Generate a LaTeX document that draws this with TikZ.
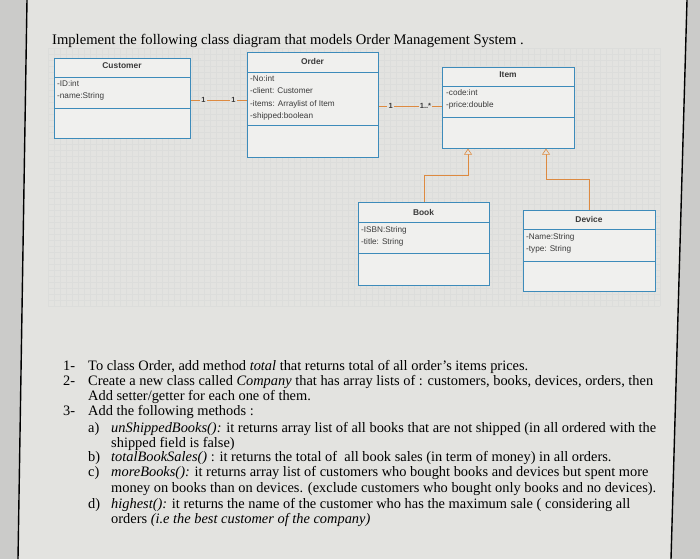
\documentclass[tikz,border=0pt]{standalone}
\usepackage{fontspec}
\setmainfont{Liberation Serif}
\newfontfamily\umlfont{Liberation Sans}
\usepackage{xcolor}
\usetikzlibrary{arrows.meta, positioning}
\definecolor{pagebg}{HTML}{E3E3E0}
\definecolor{deskbg}{HTML}{CBCBC9}
\definecolor{gridgray}{HTML}{DCDDDB}
\definecolor{umlblue}{HTML}{3D8BBA}
\definecolor{umlorange}{HTML}{DD8A40}
\definecolor{umltext}{HTML}{3A3A3A}

\begin{document}
\begin{tikzpicture}[x=1pt,y=-1pt,
    classbox/.style={draw=umlblue,semithick,fill=pagebg!55!white,anchor=north west,inner sep=0pt},
    classline/.style={umlblue,semithick},
    classname/.style={font=\umlfont\bfseries\fontsize{8.4}{10}\selectfont,text=umltext,inner sep=0pt},
    attrs/.style={font=\umlfont\fontsize{8.2}{12.5}\selectfont,text=umltext,align=left,anchor=north west,inner sep=0pt},
    assoc/.style={umlorange,semithick},
    mult/.style={font=\umlfont\bfseries\fontsize{7.5}{8}\selectfont,text=umltext,fill=pagebg,inner sep=1.2pt},
    genline/.style={umlorange,semithick,-{Triangle[open,width=8pt,length=6pt,fill=pagebg]}},
    task/.style={anchor=base west,inner sep=0pt,font=\fontsize{14.4}{15}\selectfont},
  ]
    % page of the photo
    \useasboundingbox (0,0) rectangle (700,559);
    \fill[deskbg] (0,0) rectangle (700,559);
    \fill[pagebg] (27,0) -- (687,0) -- (671,559) -- (18,559) -- cycle;
    \draw[black,line width=1.4pt] (27,0) -- (18,559);
    \draw[black,line width=1.4pt] (687,0) -- (671,559);
    \draw[gridgray,very thin,step=6pt] (48,48) grid (660,306);

    \node[anchor=base west,inner sep=0pt,font=\fontsize{14.6}{16}\selectfont] (title) at (52,45)
      {Implement the following class diagram that models Order Management System .};

    % classes
    \node[classbox,minimum width=136pt,minimum height=80pt] (customer) at (54,58) {};
    \draw[classline] (54,77) -- (190,77);
    \draw[classline] (54,108) -- (190,108);
    \node[classname] at (122,66) {Customer};
    \node[attrs] at (57,80) {-ID:int\\-name:String};

    \node[classbox,minimum width=131pt,minimum height=105pt] (order) at (247,52) {};
    \draw[classline] (247,72) -- (378,72);
    \draw[classline] (247,125) -- (378,125);
    \node[classname] at (312.5,61) {Order};
    \node[attrs] at (250,75) {-No:int\\-client: Customer\\-items: Arraylist of Item\\-shipped:boolean};

    \node[classbox,minimum width=132pt,minimum height=81pt] (item) at (442,67) {};
    \draw[classline] (442,86) -- (574,86);
    \draw[classline] (442,117) -- (574,117);
    \node[classname] at (508,75) {Item};
    \node[attrs] at (446,89) {-code:int\\-price:double};

    \node[classbox,minimum width=131pt,minimum height=83pt] (book) at (358,202) {};
    \draw[classline] (358,222) -- (489,222);
    \draw[classline] (358,253) -- (489,253);
    \node[classname] at (423.5,212) {Book};
    \node[attrs] at (361,226) {-ISBN:String\\-title: String};

    \node[classbox,minimum width=132pt,minimum height=81pt] (device) at (523,210) {};
    \draw[classline] (523,229) -- (655,229);
    \draw[classline] (523,261) -- (655,261);
    \node[classname] at (589,219) {Device};
    \node[attrs] at (526,233) {-Name:String\\-type: String};

    % associations
    \draw[assoc] (customer.east |- 0,100) -- (order.west |- 0,100)
      node[mult,pos=0.23] {1} node[mult,pos=0.76] {1};
    \draw[assoc] (order.east |- 0,106) -- (item.west |- 0,106)
      node[mult,pos=0.19] {1} node[mult,pos=0.74] {1..*};

    % inheritance
    \coordinate (bookjoin) at (468,175);
    \coordinate (devicejoin) at (546,179);
    \draw[genline] (book.north) |- (bookjoin) -- (bookjoin |- item.south);
    \draw[genline] (device.north) |- (devicejoin) -- (devicejoin |- item.south);

    % tasks
    \node[task] (t1n) at (63,370) {1-};
    \node[task] (t1) at (88,370) {To class Order, add method \textit{total} that returns total of all order's items prices.};
    \node[task] (t2n) at (63,385) {2-};
    \node[task] (t2) at (88,385) {Create a new class called \textit{Company} that has array lists of : customers, books, devices, orders, then};
    \node[task] (t2b) at (88,400) {Add setter/getter for each one of them.};
    \node[task] (t3n) at (63,415) {3-};
    \node[task] (t3) at (88,415) {Add the following methods :};
    \node[task] (tan) at (88,432) {a)};
    \node[task] (ta) at (111,432) {\textit{unShippedBooks():} it returns array list of all books that are not shipped (in all ordered with the};
    \node[task] (ta2) at (111,447) {shipped field is false)};
    \node[task] (tbn) at (88,461) {b)};
    \node[task] (tb) at (111,461) {\textit{totalBookSales()} : it returns the total of \ all book sales (in term of money) in all orders.};
    \node[task] (tcn) at (88,476) {c)};
    \node[task] (tc) at (111,476) {\textit{moreBooks():} it returns array list of customers who bought books and devices but spent more};
    \node[task] (tc2) at (111,492) {money on books than on devices. (exclude customers who bought only books and no devices).};
    \node[task] (tdn) at (88,508) {d)};
    \node[task] (td) at (111,508) {\textit{highest():} it returns the name of the customer who has the maximum sale ( considering all};
    \node[task] (td2) at (111,523) {orders \textit{(i.e the best customer of the company)}};
\end{tikzpicture}
\end{document}
